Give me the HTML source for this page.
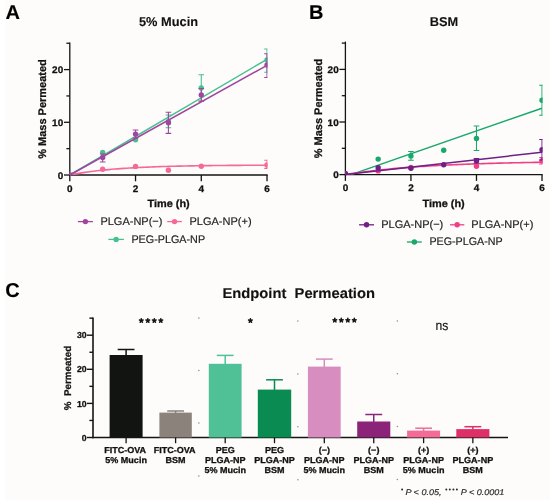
<!DOCTYPE html>
<html><head><meta charset="utf-8"><title>Figure</title>
<style>
html,body{margin:0;padding:0;background:#ffffff;}
body{width:550px;height:500px;overflow:hidden;position:relative;}
svg{position:absolute;left:0;top:0;font-family:"Liberation Sans", sans-serif;will-change:transform;text-rendering:geometricPrecision;}
</style></head><body>
<svg width="550" height="500" viewBox="0 0 550 500">
<rect x="5" y="0" width="545" height="500" fill="#fdfcfb"/>
<text transform="translate(12.60,19.00)" text-anchor="middle" fill="#000" style="font-size:20px;font-weight:bold;font-style:normal;stroke:#000;stroke-width:0.12px">A</text>
<text transform="translate(316.30,18.80)" text-anchor="middle" fill="#000" style="font-size:20px;font-weight:bold;font-style:normal;stroke:#000;stroke-width:0.12px">B</text>
<text transform="translate(12.40,297.40)" text-anchor="middle" fill="#000" style="font-size:20px;font-weight:bold;font-style:normal;stroke:#000;stroke-width:0.12px">C</text>
<text transform="translate(168.50,26.30)" text-anchor="middle" fill="#111" style="font-size:12.8px;font-weight:bold;font-style:normal;stroke:#111;stroke-width:0.12px">5% Mucin</text>
<line x1="69.80" y1="42.40" x2="69.80" y2="175.65" stroke="#141414" stroke-width="1.3" stroke-linecap="butt"/>
<line x1="69.15" y1="175.00" x2="267.70" y2="175.00" stroke="#141414" stroke-width="1.3" stroke-linecap="butt"/>
<line x1="64.00" y1="175.00" x2="69.80" y2="175.00" stroke="#141414" stroke-width="1.3" stroke-linecap="butt"/>
<text transform="translate(63.20,178.55) scale(1.050,1)" text-anchor="end" fill="#111" style="font-size:9.5px;font-weight:bold;font-style:normal;stroke:#111;stroke-width:0.28px">0</text>
<line x1="64.00" y1="122.30" x2="69.80" y2="122.30" stroke="#141414" stroke-width="1.3" stroke-linecap="butt"/>
<text transform="translate(63.20,125.85) scale(1.050,1)" text-anchor="end" fill="#111" style="font-size:9.5px;font-weight:bold;font-style:normal;stroke:#111;stroke-width:0.28px">10</text>
<line x1="64.00" y1="69.60" x2="69.80" y2="69.60" stroke="#141414" stroke-width="1.3" stroke-linecap="butt"/>
<text transform="translate(63.20,73.15) scale(1.050,1)" text-anchor="end" fill="#111" style="font-size:9.5px;font-weight:bold;font-style:normal;stroke:#111;stroke-width:0.28px">20</text>
<line x1="66.40" y1="148.65" x2="69.80" y2="148.65" stroke="#141414" stroke-width="1.3" stroke-linecap="butt"/>
<line x1="66.40" y1="95.95" x2="69.80" y2="95.95" stroke="#141414" stroke-width="1.3" stroke-linecap="butt"/>
<line x1="66.40" y1="43.25" x2="69.80" y2="43.25" stroke="#141414" stroke-width="1.3" stroke-linecap="butt"/>
<line x1="69.80" y1="175.00" x2="69.80" y2="181.30" stroke="#141414" stroke-width="1.3" stroke-linecap="butt"/>
<text transform="translate(69.80,191.50) scale(1.050,1)" text-anchor="middle" fill="#111" style="font-size:9.5px;font-weight:bold;font-style:normal;stroke:#111;stroke-width:0.28px">0</text>
<line x1="135.54" y1="175.00" x2="135.54" y2="181.30" stroke="#141414" stroke-width="1.3" stroke-linecap="butt"/>
<text transform="translate(135.54,191.50) scale(1.050,1)" text-anchor="middle" fill="#111" style="font-size:9.5px;font-weight:bold;font-style:normal;stroke:#111;stroke-width:0.28px">2</text>
<line x1="201.28" y1="175.00" x2="201.28" y2="181.30" stroke="#141414" stroke-width="1.3" stroke-linecap="butt"/>
<text transform="translate(201.28,191.50) scale(1.050,1)" text-anchor="middle" fill="#111" style="font-size:9.5px;font-weight:bold;font-style:normal;stroke:#111;stroke-width:0.28px">4</text>
<line x1="267.02" y1="175.00" x2="267.02" y2="181.30" stroke="#141414" stroke-width="1.3" stroke-linecap="butt"/>
<text transform="translate(267.02,191.50) scale(1.050,1)" text-anchor="middle" fill="#111" style="font-size:9.5px;font-weight:bold;font-style:normal;stroke:#111;stroke-width:0.28px">6</text>
<text transform="translate(168.60,207.20) scale(1.040,1)" text-anchor="middle" fill="#111" style="font-size:10.5px;font-weight:bold;font-style:normal;stroke:#111;stroke-width:0.28px">Time (h)</text>
<text transform="translate(45.60,109.00) rotate(-90)" text-anchor="middle" fill="#111" style="font-size:11px;font-weight:bold;font-style:normal;stroke:#111;stroke-width:0.28px">% Mass Permeated</text>
<clipPath id="cA"><rect x="69.8" y="30" width="197.7" height="145.0"/></clipPath>
<line x1="69.80" y1="175.00" x2="267.00" y2="59.30" stroke="#45c08f" stroke-width="1.5" stroke-linecap="butt"/>
<path d="M168.41,115.00V127.70M165.61,115.00H171.21M165.61,127.70H171.21" fill="none" stroke="#45c08f" stroke-width="1.1" clip-path="url(#cA)"/>
<path d="M201.28,74.80V101.00M198.48,74.80H204.08M198.48,101.00H204.08" fill="none" stroke="#45c08f" stroke-width="1.1" clip-path="url(#cA)"/>
<path d="M267.02,49.00V72.20M264.22,49.00H269.82M264.22,72.20H269.82" fill="none" stroke="#45c08f" stroke-width="1.1" clip-path="url(#cA)"/>
<circle cx="69.80" cy="175.00" r="2.7" fill="#45c08f" clip-path="url(#cA)"/>
<circle cx="102.67" cy="152.50" r="2.7" fill="#45c08f" clip-path="url(#cA)"/>
<circle cx="135.54" cy="139.70" r="2.7" fill="#45c08f" clip-path="url(#cA)"/>
<circle cx="168.41" cy="121.50" r="2.7" fill="#45c08f" clip-path="url(#cA)"/>
<circle cx="201.28" cy="88.00" r="2.7" fill="#45c08f" clip-path="url(#cA)"/>
<circle cx="267.02" cy="60.00" r="2.7" fill="#45c08f" clip-path="url(#cA)"/>
<path d="M69.80,175.00 L72.80,174.42 L75.80,173.87 L78.80,173.35 L81.80,172.87 L84.80,172.41 L87.80,171.98 L90.80,171.57 L93.80,171.19 L96.80,170.83 L99.80,170.49 L102.80,170.17 L105.80,169.87 L108.80,169.58 L111.80,169.32 L114.80,169.07 L117.80,168.83 L120.80,168.61 L123.80,168.40 L126.80,168.20 L129.80,168.01 L132.80,167.84 L135.80,167.67 L138.80,167.52 L141.80,167.37 L144.80,167.23 L147.80,167.10 L150.80,166.98 L153.80,166.86 L156.80,166.76 L159.80,166.65 L162.80,166.56 L165.80,166.47 L168.80,166.38 L171.80,166.30 L174.80,166.22 L177.80,166.15 L180.80,166.09 L183.80,166.02 L186.80,165.96 L189.80,165.91 L192.80,165.85 L195.80,165.80 L198.80,165.76 L201.80,165.71 L204.80,165.67 L207.80,165.63 L210.80,165.60 L213.80,165.56 L216.80,165.53 L219.80,165.50 L222.80,165.47 L225.80,165.44 L228.80,165.42 L231.80,165.39 L234.80,165.37 L237.80,165.35 L240.80,165.33 L243.80,165.31 L246.80,165.29 L249.80,165.27 L252.80,165.26 L255.80,165.24 L258.80,165.23 L261.80,165.21 L264.80,165.20 L267.80,165.19" fill="none" stroke="#f5699a" stroke-width="1.6" stroke-linejoin="round" clip-path="url(#cA)"/>
<path d="M267.02,160.20V168.40M264.22,160.20H269.82M264.22,168.40H269.82" fill="none" stroke="#f5699a" stroke-width="1.1" clip-path="url(#cA)"/>
<circle cx="69.80" cy="175.00" r="2.7" fill="#f5699a" clip-path="url(#cA)"/>
<circle cx="102.67" cy="169.30" r="2.7" fill="#f5699a" clip-path="url(#cA)"/>
<circle cx="135.54" cy="166.40" r="2.7" fill="#f5699a" clip-path="url(#cA)"/>
<circle cx="168.41" cy="170.20" r="2.7" fill="#f5699a" clip-path="url(#cA)"/>
<circle cx="201.28" cy="166.20" r="2.7" fill="#f5699a" clip-path="url(#cA)"/>
<circle cx="267.02" cy="165.00" r="2.7" fill="#f5699a" clip-path="url(#cA)"/>
<line x1="69.80" y1="175.00" x2="267.00" y2="65.30" stroke="#a1459f" stroke-width="1.5" stroke-linecap="butt"/>
<path d="M102.67,154.00V162.00M99.87,154.00H105.47M99.87,162.00H105.47" fill="none" stroke="#a1459f" stroke-width="1.1" clip-path="url(#cA)"/>
<path d="M135.54,130.00V138.00M132.74,130.00H138.34M132.74,138.00H138.34" fill="none" stroke="#a1459f" stroke-width="1.1" clip-path="url(#cA)"/>
<path d="M168.41,112.30V133.40M165.61,112.30H171.21M165.61,133.40H171.21" fill="none" stroke="#a1459f" stroke-width="1.1" clip-path="url(#cA)"/>
<path d="M201.28,88.50V101.30M198.48,88.50H204.08M198.48,101.30H204.08" fill="none" stroke="#a1459f" stroke-width="1.1" clip-path="url(#cA)"/>
<path d="M267.02,53.80V77.50M264.22,53.80H269.82M264.22,77.50H269.82" fill="none" stroke="#a1459f" stroke-width="1.1" clip-path="url(#cA)"/>
<circle cx="69.80" cy="175.00" r="2.7" fill="#a1459f" clip-path="url(#cA)"/>
<circle cx="102.67" cy="157.50" r="2.7" fill="#a1459f" clip-path="url(#cA)"/>
<circle cx="135.54" cy="134.10" r="2.7" fill="#a1459f" clip-path="url(#cA)"/>
<circle cx="168.41" cy="122.80" r="2.7" fill="#a1459f" clip-path="url(#cA)"/>
<circle cx="201.28" cy="94.90" r="2.7" fill="#a1459f" clip-path="url(#cA)"/>
<circle cx="267.02" cy="65.00" r="2.7" fill="#a1459f" clip-path="url(#cA)"/>
<line x1="77.90" y1="221.60" x2="92.90" y2="221.60" stroke="#a1459f" stroke-width="1.3" stroke-linecap="butt"/>
<circle cx="85.40" cy="221.60" r="2.7" fill="#a1459f"/>
<text transform="translate(100.40,224.90)" text-anchor="start" fill="#1e1e1e" style="font-size:11px;font-weight:normal;font-style:normal;stroke:#1e1e1e;stroke-width:0.18px">PLGA-NP(&#8722;)</text>
<line x1="167.30" y1="221.60" x2="181.80" y2="221.60" stroke="#f5699a" stroke-width="1.3" stroke-linecap="butt"/>
<circle cx="174.55" cy="221.60" r="2.7" fill="#f5699a"/>
<text transform="translate(189.50,224.90)" text-anchor="start" fill="#1e1e1e" style="font-size:11px;font-weight:normal;font-style:normal;stroke:#1e1e1e;stroke-width:0.18px">PLGA-NP(+)</text>
<line x1="108.40" y1="239.40" x2="123.90" y2="239.40" stroke="#45c08f" stroke-width="1.3" stroke-linecap="butt"/>
<circle cx="116.15" cy="239.40" r="2.7" fill="#45c08f"/>
<text transform="translate(131.40,242.90) scale(0.980,1)" text-anchor="start" fill="#1e1e1e" style="font-size:11px;font-weight:normal;font-style:normal;stroke:#1e1e1e;stroke-width:0.18px">PEG-PLGA-NP</text>
<text transform="translate(443.90,25.70)" text-anchor="middle" fill="#111" style="font-size:12.8px;font-weight:bold;font-style:normal;stroke:#111;stroke-width:0.12px">BSM</text>
<line x1="345.40" y1="41.60" x2="345.40" y2="175.25" stroke="#141414" stroke-width="1.3" stroke-linecap="butt"/>
<line x1="344.75" y1="174.60" x2="542.60" y2="174.60" stroke="#141414" stroke-width="1.3" stroke-linecap="butt"/>
<line x1="339.40" y1="174.60" x2="345.40" y2="174.60" stroke="#141414" stroke-width="1.3" stroke-linecap="butt"/>
<text transform="translate(338.70,178.15) scale(1.050,1)" text-anchor="end" fill="#111" style="font-size:9.5px;font-weight:bold;font-style:normal;stroke:#111;stroke-width:0.28px">0</text>
<line x1="339.40" y1="122.00" x2="345.40" y2="122.00" stroke="#141414" stroke-width="1.3" stroke-linecap="butt"/>
<text transform="translate(338.70,125.55) scale(1.050,1)" text-anchor="end" fill="#111" style="font-size:9.5px;font-weight:bold;font-style:normal;stroke:#111;stroke-width:0.28px">10</text>
<line x1="339.40" y1="69.40" x2="345.40" y2="69.40" stroke="#141414" stroke-width="1.3" stroke-linecap="butt"/>
<text transform="translate(338.70,72.95) scale(1.050,1)" text-anchor="end" fill="#111" style="font-size:9.5px;font-weight:bold;font-style:normal;stroke:#111;stroke-width:0.28px">20</text>
<line x1="341.80" y1="148.30" x2="345.40" y2="148.30" stroke="#141414" stroke-width="1.3" stroke-linecap="butt"/>
<line x1="341.80" y1="95.70" x2="345.40" y2="95.70" stroke="#141414" stroke-width="1.3" stroke-linecap="butt"/>
<line x1="341.80" y1="43.10" x2="345.40" y2="43.10" stroke="#141414" stroke-width="1.3" stroke-linecap="butt"/>
<line x1="345.40" y1="174.60" x2="345.40" y2="180.90" stroke="#141414" stroke-width="1.3" stroke-linecap="butt"/>
<text transform="translate(345.40,191.20) scale(1.050,1)" text-anchor="middle" fill="#111" style="font-size:9.5px;font-weight:bold;font-style:normal;stroke:#111;stroke-width:0.28px">0</text>
<line x1="410.94" y1="174.60" x2="410.94" y2="180.90" stroke="#141414" stroke-width="1.3" stroke-linecap="butt"/>
<text transform="translate(410.94,191.20) scale(1.050,1)" text-anchor="middle" fill="#111" style="font-size:9.5px;font-weight:bold;font-style:normal;stroke:#111;stroke-width:0.28px">2</text>
<line x1="476.48" y1="174.60" x2="476.48" y2="180.90" stroke="#141414" stroke-width="1.3" stroke-linecap="butt"/>
<text transform="translate(476.48,191.20) scale(1.050,1)" text-anchor="middle" fill="#111" style="font-size:9.5px;font-weight:bold;font-style:normal;stroke:#111;stroke-width:0.28px">4</text>
<line x1="542.02" y1="174.60" x2="542.02" y2="180.90" stroke="#141414" stroke-width="1.3" stroke-linecap="butt"/>
<text transform="translate(542.02,191.20) scale(1.050,1)" text-anchor="middle" fill="#111" style="font-size:9.5px;font-weight:bold;font-style:normal;stroke:#111;stroke-width:0.28px">6</text>
<text transform="translate(443.60,207.20) scale(1.040,1)" text-anchor="middle" fill="#111" style="font-size:10.5px;font-weight:bold;font-style:normal;stroke:#111;stroke-width:0.28px">Time (h)</text>
<text transform="translate(322.30,108.50) rotate(-90)" text-anchor="middle" fill="#111" style="font-size:11px;font-weight:bold;font-style:normal;stroke:#111;stroke-width:0.28px">% Mass Permeated</text>
<clipPath id="cB"><rect x="345.4" y="30" width="197.20000000000005" height="144.6"/></clipPath>
<line x1="351.00" y1="174.60" x2="541.90" y2="108.20" stroke="#17a86a" stroke-width="1.5" stroke-linecap="butt"/>
<path d="M410.94,151.50V160.30M408.14,151.50H413.74M408.14,160.30H413.74" fill="none" stroke="#17a86a" stroke-width="1.1" clip-path="url(#cB)"/>
<path d="M476.48,126.00V150.50M473.68,126.00H479.28M473.68,150.50H479.28" fill="none" stroke="#17a86a" stroke-width="1.1" clip-path="url(#cB)"/>
<path d="M542.02,85.30V115.30M539.22,85.30H544.82M539.22,115.30H544.82" fill="none" stroke="#17a86a" stroke-width="1.1" clip-path="url(#cB)"/>
<circle cx="345.40" cy="173.80" r="2.7" fill="#17a86a" clip-path="url(#cB)"/>
<circle cx="378.17" cy="159.10" r="2.7" fill="#17a86a" clip-path="url(#cB)"/>
<circle cx="410.94" cy="155.90" r="2.7" fill="#17a86a" clip-path="url(#cB)"/>
<circle cx="443.71" cy="150.20" r="2.7" fill="#17a86a" clip-path="url(#cB)"/>
<circle cx="476.48" cy="138.40" r="2.7" fill="#17a86a" clip-path="url(#cB)"/>
<circle cx="542.02" cy="100.30" r="2.7" fill="#17a86a" clip-path="url(#cB)"/>
<path d="M345.40,174.60 L348.40,174.12 L351.40,173.66 L354.40,173.21 L357.40,172.78 L360.40,172.36 L363.40,171.96 L366.40,171.57 L369.40,171.20 L372.40,170.84 L375.40,170.49 L378.40,170.15 L381.40,169.83 L384.40,169.52 L387.40,169.22 L390.40,168.93 L393.40,168.65 L396.40,168.37 L399.40,168.11 L402.40,167.86 L405.40,167.62 L408.40,167.39 L411.40,167.16 L414.40,166.94 L417.40,166.73 L420.40,166.53 L423.40,166.33 L426.40,166.15 L429.40,165.96 L432.40,165.79 L435.40,165.62 L438.40,165.46 L441.40,165.30 L444.40,165.15 L447.40,165.00 L450.40,164.86 L453.40,164.72 L456.40,164.59 L459.40,164.46 L462.40,164.34 L465.40,164.22 L468.40,164.11 L471.40,164.00 L474.40,163.89 L477.40,163.79 L480.40,163.69 L483.40,163.60 L486.40,163.50 L489.40,163.42 L492.40,163.33 L495.40,163.25 L498.40,163.17 L501.40,163.09 L504.40,163.02 L507.40,162.95 L510.40,162.88 L513.40,162.81 L516.40,162.75 L519.40,162.69 L522.40,162.63 L525.40,162.57 L528.40,162.51 L531.40,162.46 L534.40,162.41 L537.40,162.36 L540.40,162.31 L543.40,162.26" fill="none" stroke="#f03f86" stroke-width="1.6" stroke-linejoin="round" clip-path="url(#cB)"/>
<path d="M542.02,157.50V164.00M539.22,157.50H544.82M539.22,164.00H544.82" fill="none" stroke="#f03f86" stroke-width="1.1" clip-path="url(#cB)"/>
<circle cx="345.40" cy="173.80" r="2.7" fill="#f03f86" clip-path="url(#cB)"/>
<circle cx="378.17" cy="170.90" r="2.7" fill="#f03f86" clip-path="url(#cB)"/>
<circle cx="410.94" cy="167.50" r="2.7" fill="#f03f86" clip-path="url(#cB)"/>
<circle cx="476.48" cy="166.30" r="2.7" fill="#f03f86" clip-path="url(#cB)"/>
<circle cx="542.02" cy="160.80" r="2.7" fill="#f03f86" clip-path="url(#cB)"/>
<line x1="345.40" y1="174.40" x2="541.90" y2="152.30" stroke="#6f1f86" stroke-width="1.5" stroke-linecap="butt"/>
<path d="M476.48,158.50V163.00M473.68,158.50H479.28M473.68,163.00H479.28" fill="none" stroke="#6f1f86" stroke-width="1.1" clip-path="url(#cB)"/>
<path d="M542.02,139.50V160.00M539.22,139.50H544.82M539.22,160.00H544.82" fill="none" stroke="#6f1f86" stroke-width="1.1" clip-path="url(#cB)"/>
<circle cx="345.40" cy="173.80" r="2.7" fill="#6f1f86" clip-path="url(#cB)"/>
<circle cx="378.17" cy="167.80" r="2.7" fill="#6f1f86" clip-path="url(#cB)"/>
<circle cx="410.94" cy="168.30" r="2.7" fill="#6f1f86" clip-path="url(#cB)"/>
<circle cx="443.71" cy="164.80" r="2.7" fill="#6f1f86" clip-path="url(#cB)"/>
<circle cx="476.48" cy="160.80" r="2.7" fill="#6f1f86" clip-path="url(#cB)"/>
<circle cx="542.02" cy="149.80" r="2.7" fill="#6f1f86" clip-path="url(#cB)"/>
<line x1="359.10" y1="224.80" x2="374.00" y2="224.80" stroke="#6f1f86" stroke-width="1.3" stroke-linecap="butt"/>
<circle cx="366.55" cy="224.80" r="2.7" fill="#6f1f86"/>
<text transform="translate(381.20,228.20)" text-anchor="start" fill="#1e1e1e" style="font-size:11px;font-weight:normal;font-style:normal;stroke:#1e1e1e;stroke-width:0.18px">PLGA-NP(&#8722;)</text>
<line x1="450.00" y1="224.80" x2="464.30" y2="224.80" stroke="#f03f86" stroke-width="1.3" stroke-linecap="butt"/>
<circle cx="457.15" cy="224.80" r="2.7" fill="#f03f86"/>
<text transform="translate(471.30,228.20)" text-anchor="start" fill="#1e1e1e" style="font-size:11px;font-weight:normal;font-style:normal;stroke:#1e1e1e;stroke-width:0.18px">PLGA-NP(+)</text>
<line x1="406.90" y1="242.00" x2="421.80" y2="242.00" stroke="#17a86a" stroke-width="1.3" stroke-linecap="butt"/>
<circle cx="414.35" cy="242.00" r="2.7" fill="#17a86a"/>
<text transform="translate(429.40,245.40) scale(0.975,1)" text-anchor="start" fill="#1e1e1e" style="font-size:11px;font-weight:normal;font-style:normal;stroke:#1e1e1e;stroke-width:0.18px">PEG-PLGA-NP</text>
<text transform="translate(298.70,297.90) scale(1.040,1)" text-anchor="middle" fill="#111" style="font-size:14.2px;font-weight:bold;font-style:normal;stroke:#111;stroke-width:0.12px">Endpoint&#160;&#160;Permeation</text>
<line x1="93.00" y1="317.60" x2="93.00" y2="438.30" stroke="#141414" stroke-width="1.6" stroke-linecap="butt"/>
<line x1="92.20" y1="437.50" x2="508.00" y2="437.50" stroke="#141414" stroke-width="1.6" stroke-linecap="butt"/>
<line x1="86.90" y1="437.50" x2="93.00" y2="437.50" stroke="#141414" stroke-width="1.4" stroke-linecap="butt"/>
<text transform="translate(86.60,440.60)" text-anchor="end" fill="#111" style="font-size:8.7px;font-weight:bold;font-style:normal;stroke:#111;stroke-width:0.28px">0</text>
<line x1="86.90" y1="403.40" x2="93.00" y2="403.40" stroke="#141414" stroke-width="1.4" stroke-linecap="butt"/>
<text transform="translate(86.60,406.50)" text-anchor="end" fill="#111" style="font-size:8.7px;font-weight:bold;font-style:normal;stroke:#111;stroke-width:0.28px">10</text>
<line x1="86.90" y1="369.30" x2="93.00" y2="369.30" stroke="#141414" stroke-width="1.4" stroke-linecap="butt"/>
<text transform="translate(86.60,372.40)" text-anchor="end" fill="#111" style="font-size:8.7px;font-weight:bold;font-style:normal;stroke:#111;stroke-width:0.28px">20</text>
<line x1="86.90" y1="335.20" x2="93.00" y2="335.20" stroke="#141414" stroke-width="1.4" stroke-linecap="butt"/>
<text transform="translate(86.60,338.30)" text-anchor="end" fill="#111" style="font-size:8.7px;font-weight:bold;font-style:normal;stroke:#111;stroke-width:0.28px">30</text>
<line x1="89.40" y1="420.45" x2="93.00" y2="420.45" stroke="#141414" stroke-width="1.4" stroke-linecap="butt"/>
<line x1="89.40" y1="386.35" x2="93.00" y2="386.35" stroke="#141414" stroke-width="1.4" stroke-linecap="butt"/>
<line x1="89.40" y1="352.25" x2="93.00" y2="352.25" stroke="#141414" stroke-width="1.4" stroke-linecap="butt"/>
<line x1="89.40" y1="318.15" x2="93.00" y2="318.15" stroke="#141414" stroke-width="1.4" stroke-linecap="butt"/>
<text transform="translate(70.90,378.00) rotate(-90)" text-anchor="middle" fill="#111" style="font-size:9.8px;font-weight:bold;font-style:normal;stroke:#111;stroke-width:0.28px">%&#160;&#160;Permeated</text>
<line x1="126.10" y1="349.50" x2="126.10" y2="355.50" stroke="#121411" stroke-width="1.5" stroke-linecap="butt"/>
<line x1="117.70" y1="349.50" x2="134.50" y2="349.50" stroke="#121411" stroke-width="1.5" stroke-linecap="butt"/>
<rect x="109.60" y="355.00" width="33.00" height="82.50" fill="#121411"/>
<line x1="126.10" y1="437.50" x2="126.10" y2="443.20" stroke="#141414" stroke-width="1.3" stroke-linecap="butt"/>
<text transform="translate(125.10,452.50) scale(1.050,1)" text-anchor="middle" fill="#111" style="font-size:8.6px;font-weight:bold;font-style:normal;stroke:#111;stroke-width:0.28px">FITC-OVA</text>
<text transform="translate(126.10,462.50) scale(1.050,1)" text-anchor="middle" fill="#111" style="font-size:8.6px;font-weight:bold;font-style:normal;stroke:#111;stroke-width:0.28px">5% Mucin</text>
<line x1="175.60" y1="411.00" x2="175.60" y2="413.10" stroke="#8b827c" stroke-width="1.5" stroke-linecap="butt"/>
<line x1="167.20" y1="411.00" x2="184.00" y2="411.00" stroke="#8b827c" stroke-width="1.5" stroke-linecap="butt"/>
<rect x="159.40" y="412.60" width="32.40" height="24.90" fill="#8b827c"/>
<line x1="175.60" y1="437.50" x2="175.60" y2="443.20" stroke="#141414" stroke-width="1.3" stroke-linecap="butt"/>
<text transform="translate(174.60,452.50) scale(1.050,1)" text-anchor="middle" fill="#111" style="font-size:8.6px;font-weight:bold;font-style:normal;stroke:#111;stroke-width:0.28px">FITC-OVA</text>
<text transform="translate(175.60,462.50) scale(1.050,1)" text-anchor="middle" fill="#111" style="font-size:8.6px;font-weight:bold;font-style:normal;stroke:#111;stroke-width:0.28px">BSM</text>
<line x1="225.20" y1="355.40" x2="225.20" y2="364.30" stroke="#50c196" stroke-width="1.5" stroke-linecap="butt"/>
<line x1="216.80" y1="355.40" x2="233.60" y2="355.40" stroke="#50c196" stroke-width="1.5" stroke-linecap="butt"/>
<rect x="208.80" y="363.80" width="32.80" height="73.70" fill="#50c196"/>
<line x1="225.20" y1="437.50" x2="225.20" y2="443.20" stroke="#141414" stroke-width="1.3" stroke-linecap="butt"/>
<text transform="translate(225.20,452.50) scale(1.050,1)" text-anchor="middle" fill="#111" style="font-size:8.6px;font-weight:bold;font-style:normal;stroke:#111;stroke-width:0.28px">PEG</text>
<text transform="translate(225.20,462.50) scale(1.050,1)" text-anchor="middle" fill="#111" style="font-size:8.6px;font-weight:bold;font-style:normal;stroke:#111;stroke-width:0.28px">PLGA-NP</text>
<text transform="translate(225.20,472.50) scale(1.050,1)" text-anchor="middle" fill="#111" style="font-size:8.6px;font-weight:bold;font-style:normal;stroke:#111;stroke-width:0.28px">5% Mucin</text>
<line x1="274.50" y1="379.80" x2="274.50" y2="390.10" stroke="#0a8b52" stroke-width="1.5" stroke-linecap="butt"/>
<line x1="266.10" y1="379.80" x2="282.90" y2="379.80" stroke="#0a8b52" stroke-width="1.5" stroke-linecap="butt"/>
<rect x="257.80" y="389.60" width="33.40" height="47.90" fill="#0a8b52"/>
<line x1="274.50" y1="437.50" x2="274.50" y2="443.20" stroke="#141414" stroke-width="1.3" stroke-linecap="butt"/>
<text transform="translate(274.50,452.50) scale(1.050,1)" text-anchor="middle" fill="#111" style="font-size:8.6px;font-weight:bold;font-style:normal;stroke:#111;stroke-width:0.28px">PEG</text>
<text transform="translate(274.50,462.50) scale(1.050,1)" text-anchor="middle" fill="#111" style="font-size:8.6px;font-weight:bold;font-style:normal;stroke:#111;stroke-width:0.28px">PLGA-NP</text>
<text transform="translate(274.50,472.50) scale(1.050,1)" text-anchor="middle" fill="#111" style="font-size:8.6px;font-weight:bold;font-style:normal;stroke:#111;stroke-width:0.28px">BSM</text>
<line x1="324.30" y1="359.10" x2="324.30" y2="367.10" stroke="#d78dbf" stroke-width="1.5" stroke-linecap="butt"/>
<line x1="315.90" y1="359.10" x2="332.70" y2="359.10" stroke="#d78dbf" stroke-width="1.5" stroke-linecap="butt"/>
<rect x="307.90" y="366.60" width="32.80" height="70.90" fill="#d78dbf"/>
<line x1="324.30" y1="437.50" x2="324.30" y2="443.20" stroke="#141414" stroke-width="1.3" stroke-linecap="butt"/>
<text transform="translate(324.30,452.50) scale(1.050,1)" text-anchor="middle" fill="#111" style="font-size:8.6px;font-weight:bold;font-style:normal;stroke:#111;stroke-width:0.28px">(&#8722;)</text>
<text transform="translate(324.30,462.50) scale(1.050,1)" text-anchor="middle" fill="#111" style="font-size:8.6px;font-weight:bold;font-style:normal;stroke:#111;stroke-width:0.28px">PLGA-NP</text>
<text transform="translate(324.30,472.50) scale(1.050,1)" text-anchor="middle" fill="#111" style="font-size:8.6px;font-weight:bold;font-style:normal;stroke:#111;stroke-width:0.28px">5% Mucin</text>
<line x1="373.75" y1="414.50" x2="373.75" y2="422.00" stroke="#8b2479" stroke-width="1.5" stroke-linecap="butt"/>
<line x1="365.35" y1="414.50" x2="382.15" y2="414.50" stroke="#8b2479" stroke-width="1.5" stroke-linecap="butt"/>
<rect x="357.20" y="421.50" width="33.10" height="16.00" fill="#8b2479"/>
<line x1="373.75" y1="437.50" x2="373.75" y2="443.20" stroke="#141414" stroke-width="1.3" stroke-linecap="butt"/>
<text transform="translate(373.75,452.50) scale(1.050,1)" text-anchor="middle" fill="#111" style="font-size:8.6px;font-weight:bold;font-style:normal;stroke:#111;stroke-width:0.28px">(&#8722;)</text>
<text transform="translate(373.75,462.50) scale(1.050,1)" text-anchor="middle" fill="#111" style="font-size:8.6px;font-weight:bold;font-style:normal;stroke:#111;stroke-width:0.28px">PLGA-NP</text>
<text transform="translate(373.75,472.50) scale(1.050,1)" text-anchor="middle" fill="#111" style="font-size:8.6px;font-weight:bold;font-style:normal;stroke:#111;stroke-width:0.28px">BSM</text>
<line x1="423.60" y1="428.20" x2="423.60" y2="431.10" stroke="#f26c97" stroke-width="1.5" stroke-linecap="butt"/>
<line x1="415.20" y1="428.20" x2="432.00" y2="428.20" stroke="#f26c97" stroke-width="1.5" stroke-linecap="butt"/>
<rect x="407.10" y="430.60" width="33.00" height="6.90" fill="#f26c97"/>
<line x1="423.60" y1="437.50" x2="423.60" y2="443.20" stroke="#141414" stroke-width="1.3" stroke-linecap="butt"/>
<text transform="translate(423.60,452.50) scale(1.050,1)" text-anchor="middle" fill="#111" style="font-size:8.6px;font-weight:bold;font-style:normal;stroke:#111;stroke-width:0.28px">(+)</text>
<text transform="translate(423.60,462.50) scale(1.050,1)" text-anchor="middle" fill="#111" style="font-size:8.6px;font-weight:bold;font-style:normal;stroke:#111;stroke-width:0.28px">PLGA-NP</text>
<text transform="translate(423.60,472.50) scale(1.050,1)" text-anchor="middle" fill="#111" style="font-size:8.6px;font-weight:bold;font-style:normal;stroke:#111;stroke-width:0.28px">5% Mucin</text>
<line x1="472.85" y1="426.70" x2="472.85" y2="429.60" stroke="#de2f67" stroke-width="1.5" stroke-linecap="butt"/>
<line x1="464.45" y1="426.70" x2="481.25" y2="426.70" stroke="#de2f67" stroke-width="1.5" stroke-linecap="butt"/>
<rect x="456.30" y="429.10" width="33.10" height="8.40" fill="#de2f67"/>
<line x1="472.85" y1="437.50" x2="472.85" y2="443.20" stroke="#141414" stroke-width="1.3" stroke-linecap="butt"/>
<text transform="translate(472.85,452.50) scale(1.050,1)" text-anchor="middle" fill="#111" style="font-size:8.6px;font-weight:bold;font-style:normal;stroke:#111;stroke-width:0.28px">(+)</text>
<text transform="translate(472.85,462.50) scale(1.050,1)" text-anchor="middle" fill="#111" style="font-size:8.6px;font-weight:bold;font-style:normal;stroke:#111;stroke-width:0.28px">PLGA-NP</text>
<text transform="translate(472.85,472.50) scale(1.050,1)" text-anchor="middle" fill="#111" style="font-size:8.6px;font-weight:bold;font-style:normal;stroke:#111;stroke-width:0.28px">BSM</text>
<path d="M141.30,320.60L141.30,318.65M141.30,320.60L143.15,320.00M141.30,320.60L142.45,322.18M141.30,320.60L140.15,322.18M141.30,320.60L139.45,320.00" stroke="#151515" stroke-width="1.55" stroke-linecap="round" fill="none"/>
<path d="M147.80,320.60L147.80,318.65M147.80,320.60L149.65,320.00M147.80,320.60L148.95,322.18M147.80,320.60L146.65,322.18M147.80,320.60L145.95,320.00" stroke="#151515" stroke-width="1.55" stroke-linecap="round" fill="none"/>
<path d="M154.30,320.60L154.30,318.65M154.30,320.60L156.15,320.00M154.30,320.60L155.45,322.18M154.30,320.60L153.15,322.18M154.30,320.60L152.45,320.00" stroke="#151515" stroke-width="1.55" stroke-linecap="round" fill="none"/>
<path d="M160.80,320.60L160.80,318.65M160.80,320.60L162.65,320.00M160.80,320.60L161.95,322.18M160.80,320.60L159.65,322.18M160.80,320.60L158.95,320.00" stroke="#151515" stroke-width="1.55" stroke-linecap="round" fill="none"/>
<path d="M250.40,320.70L250.40,318.75M250.40,320.70L252.25,320.10M250.40,320.70L251.55,322.28M250.40,320.70L249.25,322.28M250.40,320.70L248.55,320.10" stroke="#151515" stroke-width="1.55" stroke-linecap="round" fill="none"/>
<path d="M334.80,320.30L334.80,318.35M334.80,320.30L336.65,319.70M334.80,320.30L335.95,321.88M334.80,320.30L333.65,321.88M334.80,320.30L332.95,319.70" stroke="#151515" stroke-width="1.55" stroke-linecap="round" fill="none"/>
<path d="M341.30,320.30L341.30,318.35M341.30,320.30L343.15,319.70M341.30,320.30L342.45,321.88M341.30,320.30L340.15,321.88M341.30,320.30L339.45,319.70" stroke="#151515" stroke-width="1.55" stroke-linecap="round" fill="none"/>
<path d="M347.80,320.30L347.80,318.35M347.80,320.30L349.65,319.70M347.80,320.30L348.95,321.88M347.80,320.30L346.65,321.88M347.80,320.30L345.95,319.70" stroke="#151515" stroke-width="1.55" stroke-linecap="round" fill="none"/>
<path d="M354.30,320.30L354.30,318.35M354.30,320.30L356.15,319.70M354.30,320.30L355.45,321.88M354.30,320.30L353.15,321.88M354.30,320.30L352.45,319.70" stroke="#151515" stroke-width="1.55" stroke-linecap="round" fill="none"/>
<text transform="translate(441.90,329.80) scale(0.900,1)" text-anchor="middle" fill="#151515" style="font-size:13.5px;font-weight:normal;font-style:normal;stroke:#151515;stroke-width:0.18px">ns</text>
<circle cx="198.90" cy="318.00" r="0.75" fill="#8a8a8a"/>
<circle cx="198.90" cy="370.60" r="0.75" fill="#8a8a8a"/>
<circle cx="198.90" cy="423.00" r="0.75" fill="#8a8a8a"/>
<circle cx="198.90" cy="476.00" r="0.75" fill="#8a8a8a"/>
<circle cx="297.90" cy="321.00" r="0.75" fill="#8a8a8a"/>
<circle cx="297.90" cy="374.00" r="0.75" fill="#8a8a8a"/>
<circle cx="297.90" cy="426.70" r="0.75" fill="#8a8a8a"/>
<circle cx="297.90" cy="479.80" r="0.75" fill="#8a8a8a"/>
<circle cx="397.40" cy="321.00" r="0.75" fill="#8a8a8a"/>
<circle cx="397.40" cy="373.70" r="0.75" fill="#8a8a8a"/>
<circle cx="397.40" cy="426.60" r="0.75" fill="#8a8a8a"/>
<circle cx="397.40" cy="479.40" r="0.75" fill="#8a8a8a"/>
<text transform="translate(405.40,494.50) scale(1.090,1)" text-anchor="start" fill="#2a2a2a" style="font-size:8.3px;font-weight:normal;font-style:italic;stroke:#2a2a2a;stroke-width:0.18px">P &lt; 0.05,</text>
<text transform="translate(460.70,494.50) scale(1.090,1)" text-anchor="start" fill="#2a2a2a" style="font-size:8.3px;font-weight:normal;font-style:italic;stroke:#2a2a2a;stroke-width:0.18px">P &lt; 0.0001</text>
<circle cx="402.10" cy="489.60" r="1.0" fill="#2a2a2a"/>
<circle cx="446.30" cy="489.60" r="1.0" fill="#2a2a2a"/>
<circle cx="449.80" cy="489.60" r="1.0" fill="#2a2a2a"/>
<circle cx="453.40" cy="489.60" r="1.0" fill="#2a2a2a"/>
<circle cx="456.90" cy="489.60" r="1.0" fill="#2a2a2a"/>
</svg>
</body></html>
